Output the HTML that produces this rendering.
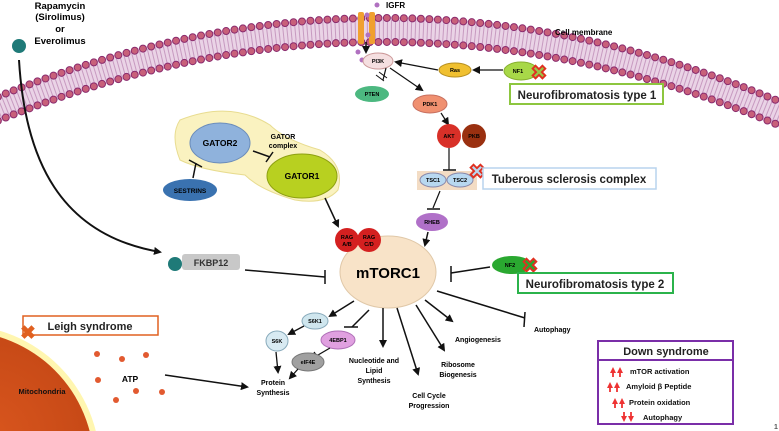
<!DOCTYPE html>
<html><head><meta charset="utf-8"><style>
html,body{margin:0;background:#fff;width:779px;height:431px;overflow:hidden}
svg{display:block;font-family:"Liberation Sans",sans-serif;font-weight:bold}
</style></head><body>
<svg width="779" height="431" viewBox="0 0 779 431" xmlns="http://www.w3.org/2000/svg">
<defs>
<marker id="ar" markerWidth="8" markerHeight="8" refX="6" refY="4" orient="auto" markerUnits="userSpaceOnUse"><path d="M0,0 L8,4 L0,8 z" fill="#111"/></marker>
<marker id="rd" markerWidth="6" markerHeight="6" refX="3" refY="3" orient="auto" markerUnits="userSpaceOnUse"><path d="M0,0 L6,3 L0,6z" fill="#e33"/></marker>
<radialGradient id="mito" cx="0.6" cy="0.4" r="0.7"><stop offset="0" stop-color="#d9561e"/><stop offset="1" stop-color="#b83f10"/></radialGradient>
</defs>
<!-- membrane -->
<path d="M-10,112 Q390,-55 790,118" fill="none" stroke="#ead3e6" stroke-width="26"/>
<path d="M-10,112 Q390,-55 790,118" fill="none" stroke="#c79ac0" stroke-width="20" stroke-dasharray="1 3"/>
<path d="M-10,100 Q390,-67 790,106" fill="none" stroke="#8a2b6e" stroke-width="8" stroke-linecap="round" stroke-dasharray="0 8.5"/>
<path d="M-10,100 Q390,-67 790,106" fill="none" stroke="#c8607a" stroke-width="6" stroke-linecap="round" stroke-dasharray="0 8.5"/>
<path d="M-10,124 Q390,-43 790,130" fill="none" stroke="#8a2b6e" stroke-width="8" stroke-linecap="round" stroke-dasharray="0 8.5"/>
<path d="M-10,124 Q390,-43 790,130" fill="none" stroke="#c8607a" stroke-width="6" stroke-linecap="round" stroke-dasharray="0 8.5"/>
<text x="555" y="35" font-size="8">Cell membrane</text>
<!-- IGFR -->
<rect x="358" y="12" width="6" height="32" rx="2" fill="#f0a030"/>
<rect x="369" y="12" width="6" height="32" rx="2" fill="#f0a030"/>
<circle cx="367" cy="15" r="2.5" fill="#b070c0"/><circle cx="377" cy="5" r="2.5" fill="#b070c0"/><circle cx="368" cy="35" r="2.5" fill="#b070c0"/>
<circle cx="358" cy="52" r="2.5" fill="#b070c0"/><circle cx="362" cy="60" r="2.5" fill="#b070c0"/>
<text x="386" y="8" font-size="8">IGFR</text>
<line x1="366" y1="42" x2="366" y2="52" stroke="#111" stroke-width="1.5" marker-end="url(#ar)"/>
<!-- Rapamycin -->
<text font-size="9.5" text-anchor="middle"><tspan x="60" y="9">Rapamycin</tspan><tspan x="60" y="20">(Sirolimus)</tspan><tspan x="60" y="32">or</tspan><tspan x="60" y="44">Everolimus</tspan></text>
<circle cx="19" cy="46" r="7" fill="#1f7a78"/>
<path d="M19,60 C25,160 60,235 160,252" fill="none" stroke="#111" stroke-width="2" marker-end="url(#ar)"/>
<!-- FKBP12 -->
<rect x="182" y="254" width="58" height="16" rx="3" fill="#c8c8c8"/>
<text x="211" y="266" font-size="9" text-anchor="middle" fill="#333">FKBP12</text>
<circle cx="175" cy="264" r="7" fill="#1f7a78"/>
<line x1="245" y1="270" x2="325" y2="277" stroke="#111" stroke-width="1.5"/><line x1="325" y1="270" x2="325" y2="284" stroke="#111" stroke-width="1.5"/>
<!-- GATOR -->
<path d="M180,120 Q230,100 270,125 Q285,140 320,150 Q345,165 338,190 Q325,205 295,200 Q260,190 245,175 Q200,170 180,160 Q170,135 180,120z" fill="#faf2c0" stroke="#e8dc90"/>
<ellipse cx="220" cy="143" rx="30" ry="20" fill="#8fb2dc" stroke="#6a8cba"/>
<text x="220" y="146" font-size="8.5" text-anchor="middle">GATOR2</text>
<ellipse cx="302" cy="176" rx="35" ry="22" fill="#b8d020" stroke="#8ea010"/>
<text x="302" y="179" font-size="8.5" text-anchor="middle">GATOR1</text>
<text font-size="7" text-anchor="middle"><tspan x="283" y="139">GATOR</tspan><tspan x="283" y="148">complex</tspan></text>
<line x1="253" y1="151" x2="270" y2="157" stroke="#111" stroke-width="1.5"/><line x1="266" y1="162" x2="273" y2="152" stroke="#111" stroke-width="1.5"/>
<ellipse cx="190" cy="190" rx="27" ry="11" fill="#3a72b0"/>
<text x="190" y="193" font-size="6.5" text-anchor="middle">SESTRINS</text>
<line x1="193" y1="178" x2="196" y2="163" stroke="#111" stroke-width="1.5"/><line x1="189" y1="160" x2="202" y2="167" stroke="#111" stroke-width="1.5"/>
<line x1="325" y1="198" x2="338" y2="226" stroke="#111" stroke-width="1.5" marker-end="url(#ar)"/>
<!-- mTORC1 -->
<ellipse cx="388" cy="272" rx="48" ry="36" fill="#f8e3c8" stroke="#e0c8a8"/>
<text x="388" y="278" font-size="15" text-anchor="middle">mTORC1</text>
<circle cx="347" cy="240" r="12" fill="#d42020"/><circle cx="369" cy="240" r="12" fill="#d42020"/>
<text font-size="5.5" text-anchor="middle"><tspan x="347" y="239">RAG</tspan><tspan x="347" y="246">A/B</tspan><tspan x="369" y="239">RAG</tspan><tspan x="369" y="246">C/D</tspan></text>
<!-- upstream right -->
<ellipse cx="378" cy="61" rx="15" ry="8" fill="#f5dfe0" stroke="#c99"/>
<text x="378" y="63" font-size="5.5" text-anchor="middle">PI3K</text>
<ellipse cx="372" cy="94" rx="17" ry="8" fill="#4cb880"/>
<text x="372" y="96" font-size="5.5" text-anchor="middle">PTEN</text>
<line x1="386" y1="68" x2="383" y2="80" stroke="#111" stroke-width="1.2"/><line x1="376" y1="75" x2="384" y2="81" stroke="#111"/><line x1="379" y1="72" x2="387" y2="78" stroke="#111"/>
<line x1="390" y1="68" x2="422" y2="90" stroke="#111" stroke-width="1.2" marker-end="url(#ar)"/>
<ellipse cx="455" cy="70" rx="16" ry="7" fill="#f0c030" stroke="#b89020"/>
<text x="455" y="72" font-size="5.5" text-anchor="middle">Ras</text>
<line x1="438" y1="70" x2="396" y2="62" stroke="#111" stroke-width="1.2" marker-end="url(#ar)"/>
<ellipse cx="521" cy="71" rx="17" ry="9" fill="#a8d848" stroke="#88b030"/>
<text x="518" y="73" font-size="5.5" text-anchor="middle">NF1</text>
<line x1="503" y1="70" x2="474" y2="70" stroke="#111" stroke-width="1.2" marker-end="url(#ar)"/>
<text x="539" y="79" font-size="19" text-anchor="middle" fill="#98c848" stroke="#e03020" stroke-width="1.2">✖</text>
<rect x="510" y="84" width="153" height="20" fill="#fff" stroke="#8dc63f" stroke-width="2"/>
<text x="587" y="99" font-size="11.5" text-anchor="middle" fill="#222">Neurofibromatosis type 1</text>
<ellipse cx="430" cy="104" rx="17" ry="9" fill="#f09070" stroke="#c87060"/>
<text x="430" y="106" font-size="5.5" text-anchor="middle">PDK1</text>
<line x1="441" y1="113" x2="448" y2="124" stroke="#111" stroke-width="1.2" marker-end="url(#ar)"/>
<circle cx="474" cy="136" r="12" fill="#9a3010"/><circle cx="449" cy="136" r="12" fill="#d83028"/>
<text x="449" y="138" font-size="5.5" text-anchor="middle">AKT</text><text x="474" y="138" font-size="5.5" text-anchor="middle">PKB</text>
<line x1="449" y1="148" x2="449" y2="170" stroke="#111" stroke-width="1.2"/><line x1="443" y1="170" x2="456" y2="170" stroke="#111" stroke-width="1.5"/>
<rect x="417" y="171" width="60" height="19" fill="#f3dcc4"/>
<ellipse cx="433" cy="180" rx="13" ry="7" fill="#b8d8f0" stroke="#88a"/><ellipse cx="460" cy="180" rx="13" ry="7" fill="#b8d8f0" stroke="#88a"/>
<text x="433" y="182" font-size="5.5" text-anchor="middle">TSC1</text><text x="460" y="182" font-size="5.5" text-anchor="middle">TSC2</text>
<text x="477" y="178" font-size="19" text-anchor="middle" fill="#b8d8f0" stroke="#e03020" stroke-width="1.2">✖</text>
<rect x="483" y="168" width="173" height="21" fill="#fff" stroke="#b8d4ee" stroke-width="1.5"/>
<text x="569" y="183" font-size="11.5" text-anchor="middle" fill="#222">Tuberous sclerosis complex</text>
<line x1="440" y1="191" x2="433" y2="208" stroke="#111" stroke-width="1.2"/><line x1="427" y1="209" x2="440" y2="209" stroke="#111" stroke-width="1.5"/>
<ellipse cx="432" cy="222" rx="16" ry="9" fill="#b070c8"/>
<text x="432" y="224" font-size="5.5" text-anchor="middle">RHEB</text>
<line x1="428" y1="232" x2="425" y2="245" stroke="#111" stroke-width="1.5" marker-end="url(#ar)"/>
<!-- NF2 -->
<ellipse cx="512" cy="265" rx="20" ry="9" fill="#2aa830"/>
<text x="510" y="267" font-size="5.5" text-anchor="middle">NF2</text>
<text x="530" y="272" font-size="19" text-anchor="middle" fill="#2aa830" stroke="#e03020" stroke-width="1.2">✖</text>
<line x1="490" y1="267" x2="451" y2="273" stroke="#111" stroke-width="1.5"/><line x1="451" y1="266" x2="451" y2="282" stroke="#111" stroke-width="1.5"/>
<rect x="518" y="273" width="155" height="20" fill="#fff" stroke="#2bb34b" stroke-width="2"/>
<text x="595" y="288" font-size="11.5" text-anchor="middle" fill="#222">Neurofibromatosis type 2</text>
<!-- downstream -->
<line x1="437" y1="291" x2="525" y2="318" stroke="#111" stroke-width="1.5"/><line x1="525" y1="312" x2="524" y2="327" stroke="#111" stroke-width="1.5"/>
<text x="534" y="332" font-size="7">Autophagy</text>
<line x1="425" y1="300" x2="452" y2="321" stroke="#111" stroke-width="1.5" marker-end="url(#ar)"/>
<text x="455" y="342" font-size="7">Angiogenesis</text>
<line x1="416" y1="305" x2="444" y2="350" stroke="#111" stroke-width="1.5" marker-end="url(#ar)"/>
<text font-size="7" text-anchor="middle"><tspan x="458" y="367">Ribosome</tspan><tspan x="458" y="377">Biogenesis</tspan></text>
<line x1="397" y1="308" x2="418" y2="374" stroke="#111" stroke-width="1.5" marker-end="url(#ar)"/>
<text font-size="7" text-anchor="middle"><tspan x="429" y="398">Cell Cycle</tspan><tspan x="429" y="408">Progression</tspan></text>
<line x1="383" y1="308" x2="383" y2="346" stroke="#111" stroke-width="1.5" marker-end="url(#ar)"/>
<text font-size="7" text-anchor="middle"><tspan x="374" y="363">Nucleotide and</tspan><tspan x="374" y="373">Lipid</tspan><tspan x="374" y="383">Synthesis</tspan></text>
<line x1="354" y1="301" x2="330" y2="316" stroke="#111" stroke-width="1.5" marker-end="url(#ar)"/>
<line x1="369" y1="310" x2="352" y2="327" stroke="#111" stroke-width="1.5"/><line x1="344" y1="327" x2="358" y2="327" stroke="#111" stroke-width="1.5"/>
<ellipse cx="315" cy="321" rx="13" ry="8" fill="#cfe6ee" stroke="#8ab"/>
<text x="315" y="323" font-size="5.5" text-anchor="middle">S6K1</text>
<ellipse cx="338" cy="340" rx="17" ry="9" fill="#e0a0e0" stroke="#b070b8"/>
<text x="338" y="342" font-size="5.5" text-anchor="middle">4EBP1</text>
<line x1="304" y1="326" x2="289" y2="334" stroke="#111" stroke-width="1.3" marker-end="url(#ar)"/>
<ellipse cx="277" cy="341" rx="11" ry="10" fill="#d8eaf2" stroke="#8ab"/>
<text x="277" y="343" font-size="5.5" text-anchor="middle">S6K</text>
<line x1="330" y1="348" x2="318" y2="355" stroke="#111" stroke-width="1.3"/><line x1="314" y1="352" x2="319" y2="359" stroke="#111" stroke-width="1.3"/>
<ellipse cx="308" cy="362" rx="16" ry="9" fill="#a0a0a0" stroke="#777"/>
<text x="308" y="364" font-size="5.5" text-anchor="middle">eIF4E</text>
<line x1="276" y1="352" x2="278" y2="372" stroke="#111" stroke-width="1.3" marker-end="url(#ar)"/>
<line x1="298" y1="369" x2="290" y2="378" stroke="#111" stroke-width="1.3" marker-end="url(#ar)"/>
<text font-size="7" text-anchor="middle"><tspan x="273" y="385">Protein</tspan><tspan x="273" y="395">Synthesis</tspan></text>
<!-- mitochondria -->
<circle cx="-40" cy="465" r="140" fill="#fff6b0"/>
<circle cx="-40" cy="465" r="134" fill="url(#mito)"/>
<text x="42" y="394" font-size="7.5" text-anchor="middle" fill="#111">Mitochondria</text>
<rect x="23" y="316" width="135" height="19" fill="#fff" stroke="#e06020" stroke-width="1.5"/>
<text x="90" y="330" font-size="11" text-anchor="middle" fill="#222">Leigh syndrome</text>
<text x="28" y="339" font-size="19" text-anchor="middle" fill="#e06020">✖</text>
<g fill="#e25a30"><circle cx="97" cy="354" r="3"/><circle cx="122" cy="359" r="3"/><circle cx="146" cy="355" r="3"/><circle cx="98" cy="380" r="3"/><circle cx="136" cy="391" r="3"/><circle cx="162" cy="392" r="3"/><circle cx="116" cy="400" r="3"/></g>
<text x="130" y="382" font-size="8.5" text-anchor="middle">ATP</text>
<line x1="165" y1="375" x2="247" y2="387" stroke="#111" stroke-width="1.5" marker-end="url(#ar)"/>
<!-- Down syndrome -->
<rect x="598" y="341" width="135" height="83" fill="#fff" stroke="#7a2ea8" stroke-width="2"/>
<line x1="598" y1="360" x2="733" y2="360" stroke="#7a2ea8" stroke-width="2"/>
<text x="666" y="355" font-size="11" text-anchor="middle" fill="#222">Down syndrome</text>
<text font-size="7.5" fill="#111"><tspan x="630" y="374">mTOR activation</tspan><tspan x="626" y="389">Amyloid β Peptide</tspan><tspan x="629" y="405">Protein oxidation</tspan><tspan x="643" y="420">Autophagy</tspan></text>
<g stroke="#e33" stroke-width="1.8">
<line x1="613" y1="377" x2="613" y2="370" marker-end="url(#rd)"/><line x1="620" y1="377" x2="620" y2="370" marker-end="url(#rd)"/>
<line x1="610" y1="392" x2="610" y2="385" marker-end="url(#rd)"/><line x1="617" y1="392" x2="617" y2="385" marker-end="url(#rd)"/>
<line x1="615" y1="408" x2="615" y2="401" marker-end="url(#rd)"/><line x1="622" y1="408" x2="622" y2="401" marker-end="url(#rd)"/>
<line x1="624" y1="412" x2="624" y2="419" marker-end="url(#rd)"/><line x1="631" y1="412" x2="631" y2="419" marker-end="url(#rd)"/>
</g>
<text x="774" y="429" font-size="7" fill="#555">1</text>
</svg>
</body></html>
